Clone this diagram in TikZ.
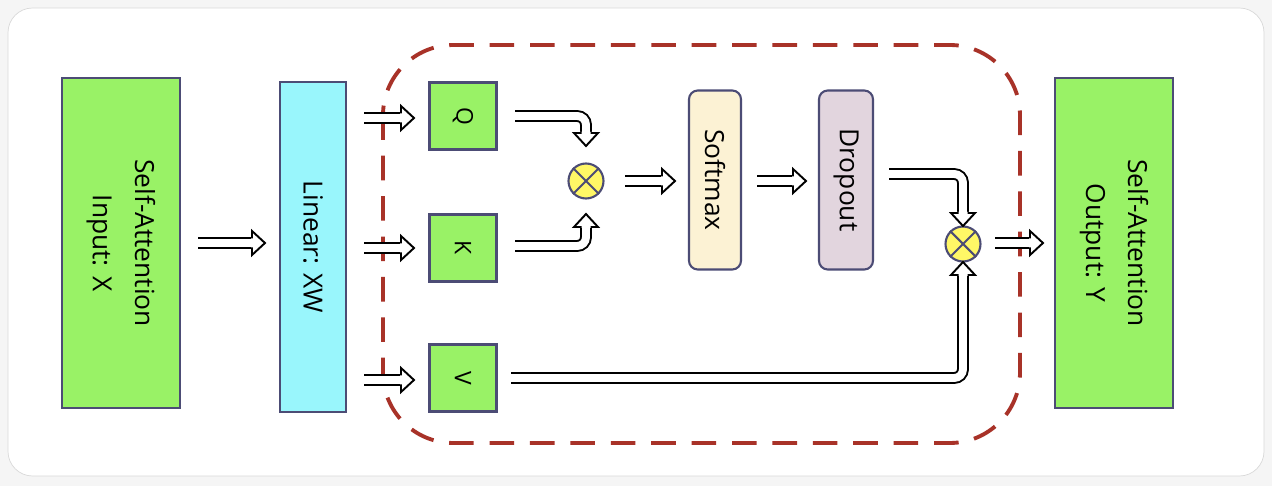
\documentclass[tikz,border=0pt]{standalone}
\usepackage{fontspec}
\setmainfont{Open Sans}
\begin{document}
\begin{tikzpicture}[x=0.02cm,y=-0.02cm,
 box/.style={draw=black!60!blue!40!gray,line width=1.2pt,inner sep=0pt,font=\fontsize{15}{18}\selectfont},
 shaft/.style={line width=1.1pt,double=white,double distance=4.5pt,rounded corners=5pt},
 otim/.style={circle,draw=black!60!blue!40!gray,fill=yellow!60,line width=1.2pt,minimum size=0.7cm,inner sep=0pt}]
\newcommand\tipR[2]{\fill[white](#1-14,#2-12)--(#1,#2)--(#1-14,#2+12)--cycle;
 \draw[line width=1.1pt,line join=miter](#1-13,#2-4.5)--(#1-13,#2-12)--(#1,#2)--(#1-13,#2+12)--(#1-13,#2+4.5);}
\newcommand\tipD[2]{\fill[white](#1-12,#2-14)--(#1,#2)--(#1+12,#2-14)--cycle;
 \draw[line width=1.1pt,line join=miter](#1-4.5,#2-13)--(#1-12,#2-13)--(#1,#2)--(#1+12,#2-13)--(#1+4.5,#2-13);}
\newcommand\tipU[2]{\fill[white](#1-12,#2+14)--(#1,#2)--(#1+12,#2+14)--cycle;
 \draw[line width=1.1pt,line join=miter](#1-4.5,#2+13)--(#1-12,#2+13)--(#1,#2)--(#1+12,#2+13)--(#1+4.5,#2+13);}
\fill[gray!8](0,0) rectangle (1272,486);
\path[use as bounding box](0,0) rectangle (1272,486);
\draw[gray!30,fill=white,rounded corners=14pt](8,8) rectangle (1264,476);
% dashed group
\draw[draw={rgb,255:red,168;green,50;blue,40},line width=2.2pt,dash pattern=on 14pt off 9pt,rounded corners=40pt](383,45) rectangle (1020,443);
% boxes
\node[box,fill={rgb,255:red,153;green,242;blue,102},minimum width=118*0.02cm,minimum height=330*0.02cm] (in) at (121,243) {};
\node[rotate=-90,align=center,font=\fontsize{15}{24}\selectfont] at (in) {Self-Attention\\Input: X};
\node[box,fill={rgb,255:red,153;green,246;blue,252},minimum width=66*0.02cm,minimum height=330*0.02cm] (lin) at (313,247) {};
\node[rotate=-90,font=\fontsize{15}{18}\selectfont] at (lin) {Linear: XW};
\node[box,fill={rgb,255:red,153;green,242;blue,102},minimum width=118*0.02cm,minimum height=330*0.02cm] (out) at (1114,243) {};
\node[rotate=-90,align=center,font=\fontsize{15}{24}\selectfont] at (out) {Self-Attention\\Output: Y};
\foreach \n/\t/\yy in {q/Q/116,k/K/248,v/V/378}{
 \node[box,fill={rgb,255:red,153;green,242;blue,102},minimum size=67*0.02cm] (\n) at (463,\yy) {};
 \node[rotate=-90,font=\fontsize{13}{16}\selectfont] at (\n) {\t};}
\node[box,fill={rgb,255:red,252;green,242;blue,212},rounded corners=5pt,minimum width=52*0.02cm,minimum height=179*0.02cm] (sm) at (715,180) {};
\node[rotate=-90,font=\fontsize{15}{18}\selectfont] at (sm) {Softmax};
\node[box,fill={rgb,255:red,226;green,213;blue,222},rounded corners=5pt,minimum width=54*0.02cm,minimum height=179*0.02cm] (dr) at (846,180) {};
\node[rotate=-90,font=\fontsize{15}{18}\selectfont] at (dr) {Dropout};
\node[otim] (m1) at (586,181) {};
\node[otim] (m2) at (963,244) {};
\foreach \m in {m1,m2}{\draw[black!60!blue!40!gray,line width=1.2pt] (\m.45)--(\m.225) (\m.135)--(\m.315);}
% arrows
\draw[shaft](198,243)--(252,243); \tipR{265}{243}
\foreach \yy in {118,248,380}{\draw[shaft](364,\yy)--(401,\yy); \tipR{414}{\yy}}
\draw[shaft](515,116)-|(586,133); \tipD{586}{146}
\draw[shaft](515,246)-|(586,227); \tipU{586}{214}
\draw[shaft](625,181)--(662,181); \tipR{675}{181}
\draw[shaft](757,181)--(793,181); \tipR{806}{181}
\draw[shaft](889,174)-|(963,213); \tipD{963}{226}
\draw[shaft](511,378)-|(963,275); \tipU{963}{262}
\draw[shaft](995,243)--(1030,243); \tipR{1043}{243}
\end{tikzpicture}
\end{document}
